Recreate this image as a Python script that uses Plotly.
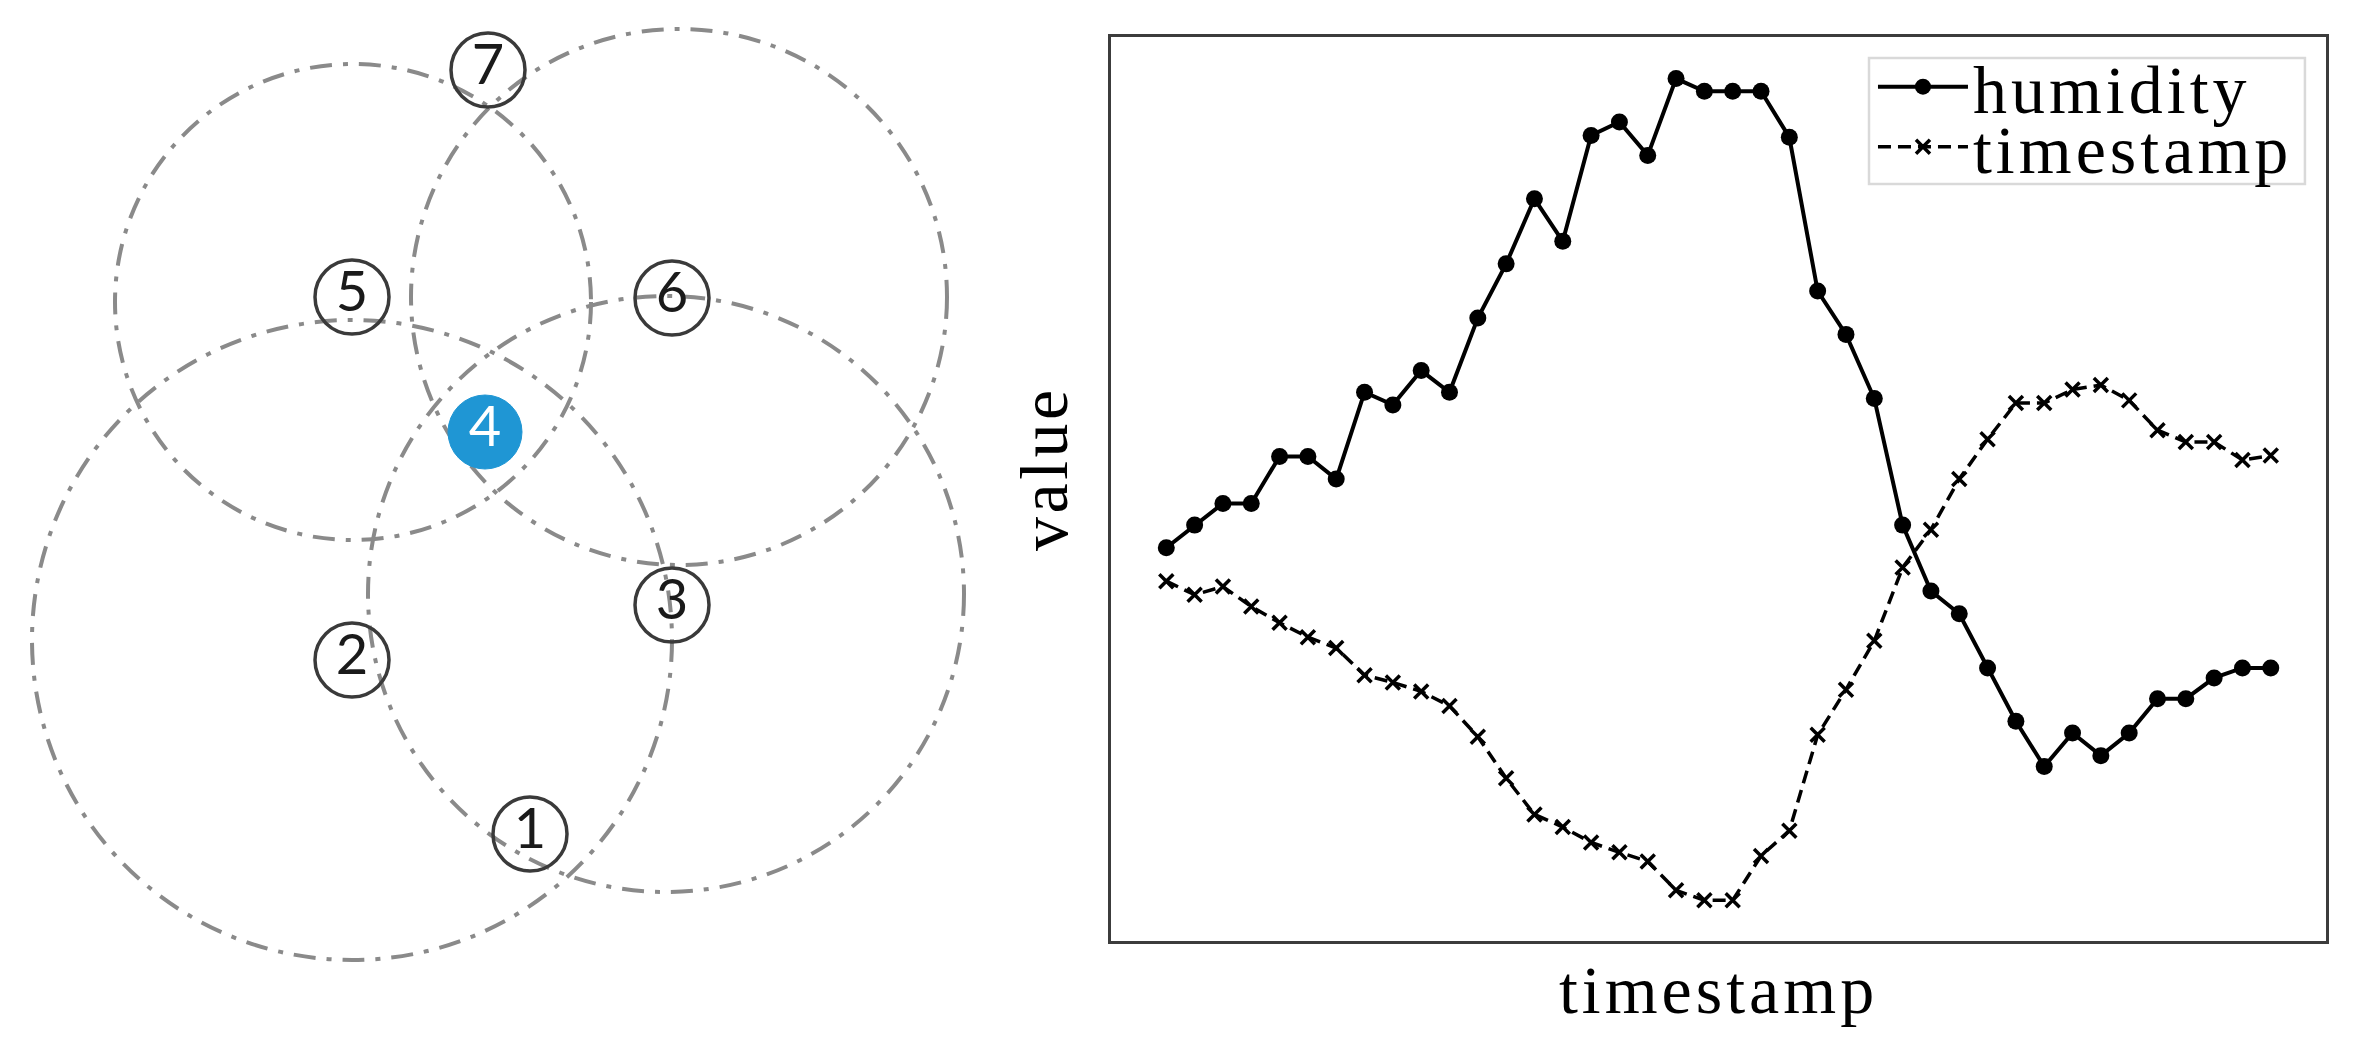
import plotly.graph_objects as go

# --- правая панель: ряды по шагам времени ---
steps = list(range(40))
humidity = [43.5, 46.0, 48.4, 48.4, 53.6, 53.6, 51.1, 60.7, 59.3, 63.1,
            60.7, 68.9, 74.9, 82.1, 77.4, 89.1, 90.6, 86.9, 95.4, 94.0,
            94.0, 94.0, 88.9, 71.9, 67.1, 60.0, 46.0, 38.7, 36.2, 30.2,
            24.3, 19.3, 23.0, 20.5, 23.0, 26.8, 26.8, 29.1, 30.2, 30.2]
timestamp = [39.8, 38.3, 39.2, 37.0, 35.2, 33.6, 32.4, 29.4, 28.6, 27.6,
             26.0, 22.6, 18.0, 14.0, 12.6, 10.9, 9.8, 8.8, 5.6, 4.5,
             4.5, 9.4, 12.2, 22.8, 27.8, 33.2, 41.3, 45.5, 51.1, 55.5,
             59.5, 59.5, 61.0, 61.5, 59.8, 56.5, 55.2, 55.2, 53.2, 53.7]

# --- левая панель: схема узлов и зон покрытия ---
node_labels = ["1", "2", "3", "4", "5", "6", "7"]
node_x = [530, 352, 672, 485, 352, 672, 488]
node_y = [834, 660, 605, 432, 297, 298, 70]

# окружности: центр и радиус
circle_cx = [353, 679, 352, 666]
circle_cy = [302, 297, 640, 594]
circle_r = [238, 268, 320, 298]

SERIF = "Liberation Serif, Times New Roman, serif"
SANS = "Lato, Open Sans, sans-serif"


def spaced(text, px):
    # разреженный текст, как на исходной картинке
    return f'<span style="letter-spacing:{px}px">{text}</span>'


fig = go.Figure()

# Окружности зон (пунктир с точкой)
for cx, cy, r in zip(circle_cx, circle_cy, circle_r):
    fig.add_shape(
        type="circle", xref="x2", yref="y2",
        x0=cx - r, x1=cx + r, y0=cy - r, y1=cy + r,
        line=dict(color="#8a8a8a", width=4, dash="22px,11px,5px,11px"),
        layer="below",
    )

# Обычные узлы
plain = [i for i, n in enumerate(node_labels) if n != "4"]
fig.add_trace(go.Scatter(
    x=[node_x[i] for i in plain],
    y=[node_y[i] for i in plain],
    text=[node_labels[i] for i in plain],
    mode="markers+text",
    textposition="middle center",
    textfont=dict(family=SANS, size=56, color="#1a1a1a"),
    marker=dict(size=74, color="rgba(0,0,0,0)",
                line=dict(color="#3a3a3a", width=3.5)),
    xaxis="x2", yaxis="y2", showlegend=False, hoverinfo="skip",
))

# Выделенный узел 4
k = node_labels.index("4")
fig.add_trace(go.Scatter(
    x=[node_x[k]], y=[node_y[k]], text=[node_labels[k]],
    mode="markers+text",
    textposition="middle center",
    textfont=dict(family=SANS, size=56, color="white"),
    marker=dict(size=74, color="#1f96d4", line=dict(color="#1f96d4", width=1)),
    xaxis="x2", yaxis="y2", showlegend=False, hoverinfo="skip",
))

# Линии графика
fig.add_trace(go.Scatter(
    x=steps, y=humidity, mode="lines+markers",
    name=spaced("humidity", 4), legend="legend",
    line=dict(color="black", width=4),
    marker=dict(symbol="circle", size=17, color="black"),
))
fig.add_trace(go.Scatter(
    x=steps, y=timestamp, mode="lines+markers",
    name=spaced("timestamp", 4), legend="legend2",
    line=dict(color="black", width=3.5, dash="13px,7px"),
    marker=dict(symbol="x-thin", size=14, color="black",
                line=dict(color="black", width=3.5)),
))

# Рамка легенды
fig.add_shape(
    type="rect", xref="paper", yref="paper",
    x0=0.7953, x1=0.9816, y0=0.8293, y1=0.9515,
    line=dict(color="#d9d9d9", width=2.5), fillcolor="white", layer="below",
)

# Подпись оси Y
fig.add_annotation(
    text=spaced("value", 3.5), textangle=-90,
    xref="paper", yref="paper", x=0.4598, y=0.5538,
    xanchor="right", yanchor="middle", showarrow=False,
    font=dict(family=SERIF, size=68, color="black"),
)

legend_style = dict(
    x=0.7970, xanchor="left", yanchor="middle",
    bgcolor="rgba(0,0,0,0)", borderwidth=0,
    font=dict(family=SERIF, size=68, color="black"),
    itemwidth=90,
)

fig.update_layout(
    width=2340, height=1031,
    margin=dict(l=0, r=0, t=0, b=0),
    paper_bgcolor="white", plot_bgcolor="white",
    font=dict(family=SERIF, color="black"),
    xaxis=dict(
        domain=[0.4714, 0.9906], range=[-1.95, 40.95],
        showline=True, mirror=True, linecolor="#3c3c3c", linewidth=2.5,
        showticklabels=False, ticks="", showgrid=False, zeroline=False,
        title=dict(text=spaced("timestamp", 4), standoff=23,
                   font=dict(family=SERIF, size=68)),
    ),
    yaxis=dict(
        domain=[0.0951, 0.9719], range=[0, 100],
        showline=True, mirror=True, linecolor="#3c3c3c", linewidth=2.5,
        showticklabels=False, ticks="", showgrid=False, zeroline=False,
    ),
    xaxis2=dict(domain=[0, 0.45], range=[8, 1061], visible=False),
    yaxis2=dict(domain=[0, 1], range=[1039, 8], visible=False,
                anchor="x2"),
    legend=dict(y=0.9234, **legend_style),
    legend2=dict(y=0.8652, **legend_style),
    showlegend=True,
)

fig.write_html("out.html")
